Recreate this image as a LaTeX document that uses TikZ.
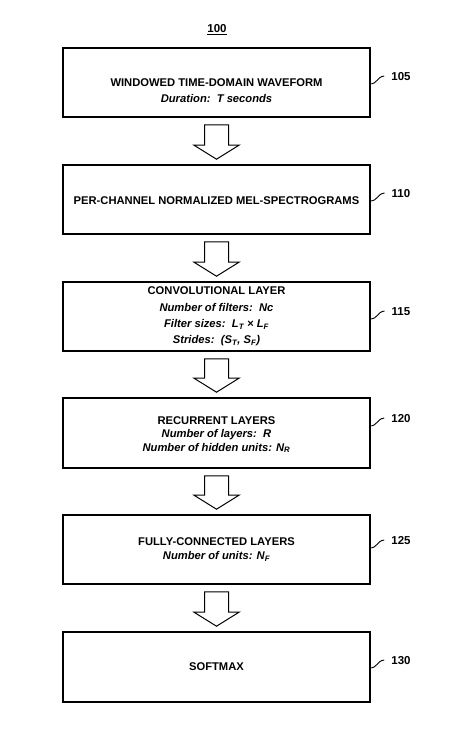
\documentclass[tikz,border=0pt]{standalone}
\usepackage{fontspec}
\setmainfont{Liberation Sans}
\usetikzlibrary{calc}
\newcommand\flowarrow[2]{%
  \draw[blockarrow] ($(#1.south)+(-12,-7)$) -- ($(#2.north)+(-12,19)$) -- ($(#2.north)+(-22.5,19)$)
    -- ($(#2.north)+(0,5)$) -- ($(#2.north)+(22.5,19)$) -- ($(#2.north)+(12,19)$)
    -- ($(#1.south)+(12,-7)$) -- cycle;}
\newcommand\refsquig[1]{%
  \draw[squig] ($(#1.west)+(-22,-7)$) .. controls +(9,0) and +(-8,-1) .. ($(#1.west)+(-7,1)$);}
\begin{document}
\begin{tikzpicture}[x=1pt,y=1pt,
  stepbox/.style={draw=black, line width=1.6pt, minimum width=307pt, inner sep=0pt},
  boxtext/.style={font=\fontsize{11.2}{16}\selectfont\bfseries, align=center, inner sep=0pt},
  reftext/.style={font=\fontsize{11.5}{13}\selectfont\bfseries, inner sep=0pt},
  blockarrow/.style={draw=black, line width=1pt, fill=white, line join=miter},
  squig/.style={draw=black, line width=0.9pt}]
\useasboundingbox (0,0) rectangle (474,-740);

\node[reftext] (fig) at (217,-30) {\underline{100}};

\node[stepbox, minimum height=69pt] (b1) at (216.5,-82.5) {};
\node[stepbox, minimum height=69pt] (b2) at (216.5,-199.5) {};
\node[stepbox, minimum height=69pt] (b3) at (216.5,-316.5) {};
\node[stepbox, minimum height=70pt] (b4) at (216.5,-433) {};
\node[stepbox, minimum height=69pt] (b5) at (216.5,-549.5) {};
\node[stepbox, minimum height=70pt] (b6) at (216.5,-667) {};

\node[boxtext] (t1) at (216.5,-91) {WINDOWED TIME-DOMAIN WAVEFORM\\ \textit{Duration:\ \ T seconds}};
\node[boxtext] (t2) at (216.5,-201) {PER-CHANNEL NORMALIZED MEL-SPECTROGRAMS};
\node[boxtext, font=\fontsize{11.2}{16.3}\selectfont\bfseries] (t3) at (216.5,-316.5) {CONVOLUTIONAL LAYER\\
  \textit{Number of filters:\ \ Nc}\\
  \textit{Filter sizes:\ \ L\textsubscript{T} × L\textsubscript{F}}\\
  \textit{Strides:\ \ (S\textsubscript{T}, S\textsubscript{F})}};
\node[boxtext, font=\fontsize{11.2}{13.5}\selectfont\bfseries] (t4) at (216.5,-434.5) {RECURRENT LAYERS\\
  \textit{Number of layers:\ \ R}\\
  \textit{Number of hidden units: N\textsubscript{R}}};
\node[boxtext, font=\fontsize{11.2}{14}\selectfont\bfseries] (t5) at (216.5,-549.5) {FULLY-CONNECTED LAYERS\\
  \textit{Number of units: N\textsubscript{F}}};
\node[boxtext] (t6) at (216.5,-667) {SOFTMAX};

\flowarrow{b1}{b2}
\flowarrow{b2}{b3}
\flowarrow{b3}{b4}
\flowarrow{b4}{b5}
\flowarrow{b5}{b6}

\node[reftext] (l1) at (401,-77) {105};
\node[reftext] (l2) at (401,-194) {110};
\node[reftext] (l3) at (401,-312) {115};
\node[reftext] (l4) at (401,-419) {120};
\node[reftext] (l5) at (401,-541) {125};
\node[reftext] (l6) at (401,-661) {130};
\refsquig{l1}
\refsquig{l2}
\refsquig{l3}
\refsquig{l4}
\refsquig{l5}
\refsquig{l6}
\end{tikzpicture}
\end{document}
